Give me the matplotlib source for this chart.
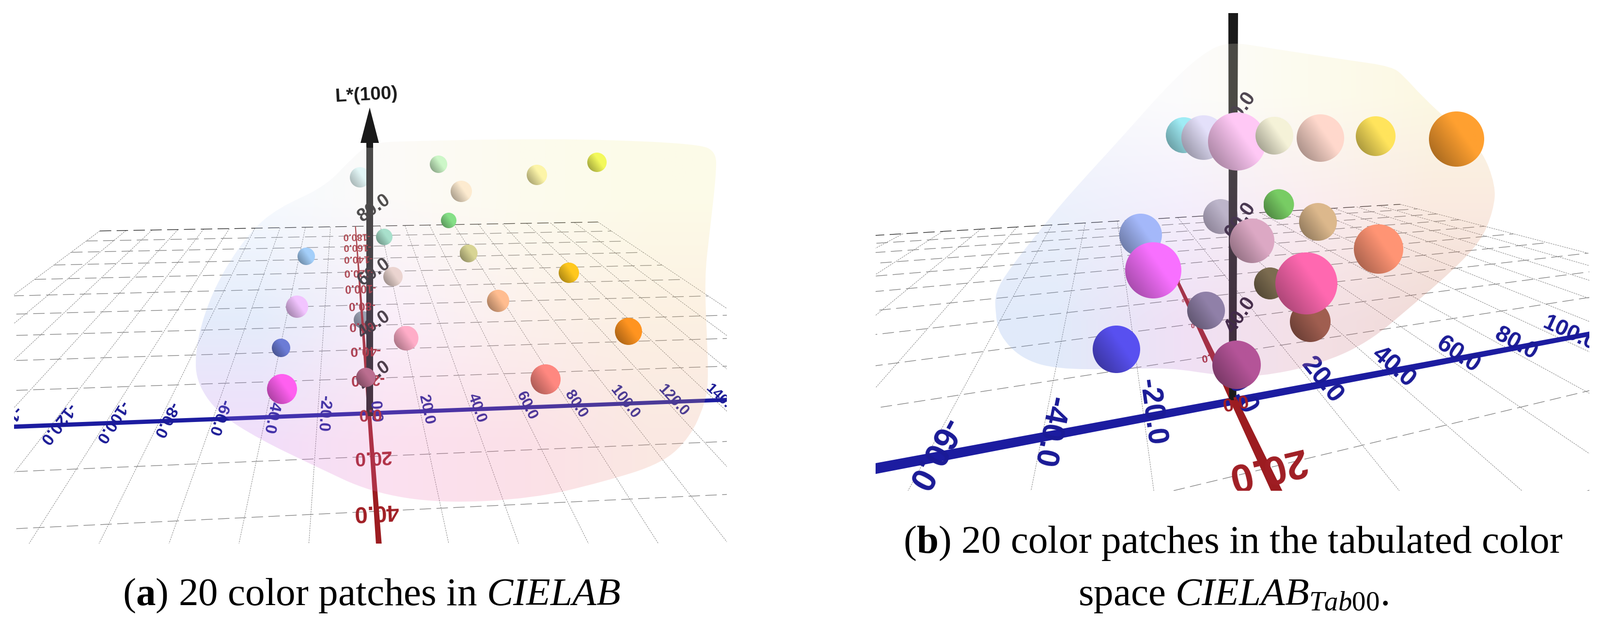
import numpy as np
import matplotlib
matplotlib.use("Agg")
import matplotlib.pyplot as plt
from matplotlib.patches import Circle, PathPatch
from matplotlib.path import Path

W, H = 3302, 1288
plt.rcParams['lines.scale_dashes'] = False
plt.rcParams['mathtext.fontset'] = 'custom'
plt.rcParams['mathtext.rm'] = 'Liberation Serif'
plt.rcParams['mathtext.it'] = 'Liberation Serif:italic'
plt.rcParams['mathtext.bf'] = 'Liberation Serif:bold'

# color patches
a_patch_x = [743, 905, 1108, 1232, 952, 926, 793, 967, 632, 1174, 811, 1028, 613, 748, 838, 1297, 580, 1126, 582, 755]
a_patch_y = [366, 339, 361, 335, 395, 455, 489, 523, 529, 563, 571, 621, 633, 660, 698, 684, 718, 783, 803, 779]
a_patch_r = [21, 18, 21, 20, 22, 16, 17, 18.5, 18, 21, 20, 23, 23, 18, 25.5, 28, 19, 31, 31, 20]
a_patch_colour = ['#E0FBFB', '#CDF7C8', '#FDF5A8', '#F4FA5C', '#FDEBD0', '#86E088', '#A8E0CC', '#D8D494',
                  '#A4CFFA', '#FFC81E', '#EBD5D0', '#FFBD90', '#F2C4FF', '#8A9CA2', '#FFADC8', '#FF9420',
                  '#6C7CD6', '#FF8880', '#FF60F0', '#BC6E90']
a_behind = [0, 13]

b_patch_x = [2443, 2484, 2553, 2630, 2725, 2839, 3006, 2519, 2639, 2720, 2584, 2845, 2354, 2380, 2621, 2704, 2696, 2489, 2304, 2552]
b_patch_y = [279, 284, 292, 280, 285, 281, 287, 447, 422, 458, 497, 514, 485, 558, 585, 664, 585, 641, 721, 753]
b_patch_r = [37, 46, 60, 39, 49, 41, 57, 36, 31.5, 39, 46, 51, 44, 58, 33, 42, 64, 39, 49, 50]
b_patch_colour = ['#9FECF5', '#E4E0FA', '#FFC8F5', '#F5F2D8', '#FFD8CC', '#FFE45C', '#FFA030', '#B6B6C4',
                  '#78CC64', '#DCB88C', '#DCA8C4', '#FF9474', '#A4B8FA', '#F870FF', '#7C6C50', '#A05E50',
                  '#FF68B0', '#9080A8', '#5850F0', '#B45498']
b_behind = [7]

# gamut surface outlines
a_surf_x = [765, 861, 1052, 1244, 1435, 1478, 1478, 1464, 1454, 1459, 1462, 1454, 1425, 1368, 1244, 1100, 909, 765, 650, 536, 450, 407, 402, 421, 459, 517, 574, 670, 727]
a_surf_y = [294, 291, 287, 288, 297, 311, 362, 483, 574, 695, 792, 835, 901, 956, 995, 1029, 1039, 1016, 962, 907, 853, 792, 732, 647, 562, 477, 429, 386, 326]
b_surf_x = [2536, 2618, 2781, 2873, 2899, 2934, 2995, 3057, 3087, 3082, 3057, 2995, 2914, 2822, 2720, 2598, 2516, 2414, 2312, 2179, 2108, 2062, 2054, 2054, 2083, 2169, 2230, 2312, 2414, 2485]
b_surf_y = [86, 99, 124, 137, 159, 198, 255, 306, 383, 434, 497, 561, 631, 708, 753, 778, 775, 759, 762, 762, 740, 692, 644, 603, 555, 446, 376, 287, 172, 108]

a_tint = [[(216, 233, 255), (242, 233, 225), (246, 238, 181), (246, 238, 155)],
          [(138, 172, 238), (233, 181, 233), (242, 190, 172), (242, 190, 129)],
          [(198, 112, 233), (238, 120, 190), (242, 120, 155), (233, 155, 129)]]
b_tint = [[(225, 233, 255), (242, 242, 242), (246, 238, 181), (242, 225, 129)],
          [(172, 194, 242), (207, 181, 242), (233, 172, 190), (233, 164, 120)],
          [(125, 164, 233), (190, 120, 212), (207, 120, 146), (190, 94, 77)]]

# floor grid: cell index (a*/20, b*/20) against where it shows up in the picture
a_floor_uv = [(-10, -10), (10, -10), (-10, 0), (10, 0), (-3, 0), (3, 0)]
a_floor_xy = [(206, 477), (1234, 458), (-357, 895), (1765, 816), (437, 865), (1077, 841)]
b_floor_uv = [(-7, -10), (10, -10), (-1, -10), (-3, 0), (-1, 0), (1, 0), (5, 0), (1, 1), (2, 1), (-2, -1), (-3, -1), (-3, -2), (-2, -2)]
b_floor_xy = [(1863, 482), (2889, 422), (2306, 456), (1899, 949), (2361, 863), (2718, 796), (3230, 700), (2806, 916), (2974, 876), (2175, 785), (1986, 816), (2033, 727), (2191, 706)]

a_ticks_a = [-140, -120, -100, -80, -60, -40, -20, 0, 20, 40, 60, 80, 100, 120, 140]
a_ticks_b = [-180, -160, -140, -120, -100, -80, -60, -40, -20, 0, 20, 40]
b_ticks_a = [-80, -60, -40, -20, 0, 20, 40, 60, 80, 100, 120]
b_ticks_b = [-180, -160, -140, -120, -100, -80, -60, -40, -20, 0, 20]
ticks_l = [20, 40, 60, 80]
a_l_label_y = [774, 671, 562, 430]
b_l_label_y = [760, 651, 455, 226]

SANS = 'Liberation Sans'
BLUE = '#1C1CA0'
RED = '#9C1C20'


def fit_floor(uv, xy):
    rows, rhs = [], []
    for (u, v), (x, y) in zip(uv, xy):
        rows.append([u, v, 1, 0, 0, 0, -u * x, -v * x])
        rows.append([0, 0, 0, u, v, 1, -u * y, -v * y])
        rhs += [x, y]
    h = np.linalg.lstsq(np.array(rows, float), np.array(rhs, float), rcond=None)[0]
    return np.append(h, 1).reshape(3, 3)


def project(M, u, v):
    u = np.asarray(u, float)
    v = np.asarray(v, float)
    w = M[2, 0] * u + M[2, 1] * v + 1
    return (M[0, 0] * u + M[0, 1] * v + M[0, 2]) / w, (M[1, 0] * u + M[1, 1] * v + M[1, 2]) / w


def angle_between(M, u0, v0, u1, v1):
    x0, y0 = project(M, u0, v0)
    x1, y1 = project(M, u1, v1)
    return np.degrees(np.arctan2(-(y1 - y0), x1 - x0))


def tube(ax, x0, y0, x1, y1, w0, w1, colour, z):
    d = np.array([x1 - x0, y1 - y0], float)
    n = np.array([-d[1], d[0]]) / np.hypot(*d)
    xs = [x0 + n[0] * w0 / 2, x1 + n[0] * w1 / 2, x1 - n[0] * w1 / 2, x0 - n[0] * w0 / 2]
    ys = [y0 + n[1] * w0 / 2, y1 + n[1] * w1 / 2, y1 - n[1] * w1 / 2, y0 - n[1] * w0 / 2]
    ax.fill(xs, ys, color=colour, lw=0, zorder=z)


def draw_grid(ax, M, v_front):
    for u in range(-10, 11):
        x, y = project(M, np.full(40, u), np.linspace(-10, v_front, 40))
        ax.plot(x, y, color='#6a6a6a', lw=0.6, ls=(0, (2.2, 1.3)), zorder=1)
    for v in range(-10, int(v_front) + 1):
        x, y = project(M, np.linspace(-10, 10, 40), np.full(40, v))
        c = '#1e1e1e' if v == -10 else '#808080'
        ax.plot(x, y, color=c, lw=0.95, ls=(0, (17, 8)), zorder=1)


def draw_surface(ax, xs, ys, tint):
    pts = np.column_stack([xs, ys]).astype(float)
    mids = (pts + np.roll(pts, -1, axis=0)) / 2
    verts = [mids[-1]]
    codes = [Path.MOVETO]
    for p, m in zip(pts, mids):
        verts += [p, m]
        codes += [Path.CURVE3, Path.CURVE3]
    path = Path(verts, codes)
    im = ax.imshow(np.array(tint, float) / 255, extent=(min(xs), max(xs), max(ys), min(ys)),
                   interpolation='bilinear', aspect='auto', alpha=0.23, zorder=5)
    im.set_clip_path(PathPatch(path, transform=ax.transData))


def draw_patches(ax, px, py, pr, colours, behind):
    gy, gx = np.mgrid[-1:1:80j, -1:1:80j]
    shade = np.clip(0.93 + 0.2 * gx - 0.14 * gy, 0.66, 1.0)
    for i in range(len(px)):
        rgb = np.clip(np.array(matplotlib.colors.to_rgb(colours[i]))[None, None, :] * shade[:, :, None], 0, 1)
        r = pr[i]
        im = ax.imshow(rgb, extent=(px[i] - r, px[i] + r, py[i] + r, py[i] - r),
                       interpolation='bilinear', aspect='auto', zorder=2 if i in behind else 6)
        im.set_clip_path(Circle((px[i], py[i]), r, transform=ax.transData))


def draw_labels(ax, M, ticks_a, ticks_b, a_em, b_em, a_shift):
    for t in ticks_a:
        u = t / 20
        x, y = project(M, u, 0)
        x1, _ = project(M, u + 1, 0)
        em = a_em[0] + a_em[1] * abs(x1 - x)
        ax.text(x + a_shift[0], y + a_shift[1], f"{t:.1f}", color='#1A1A96', family=SANS, weight='bold',
                fontsize=em * 0.72, rotation=float(angle_between(M, u, -0.2, u, 0.2)),
                rotation_mode='anchor', ha='center', va='center', zorder=4, clip_on=True)
    for t in ticks_b:
        v = t / 20
        x, y = project(M, 0, v)
        _, y1 = project(M, 0, v + 1)
        em = b_em[0] + b_em[1] * abs(y1 - y) ** b_em[2]
        ax.text(x, y, f"{t:.1f}", color='#A01E24', family=SANS, weight='bold',
                fontsize=em * 0.72, rotation=float(angle_between(M, 0.2, v, -0.2, v)),
                rotation_mode='anchor', ha='center', va='center', zorder=4, clip_on=True)


fig = plt.figure(figsize=(W / 100, H / 100), dpi=100)
ax_a = fig.add_axes([29 / W, 1 - 1122 / H, 1471 / W, 1022 / H])
ax_b = fig.add_axes([1807 / W, 1 - 1013 / H, 1473 / W, 986 / H])
ax_a.set_xlim(29, 1500)
ax_a.set_ylim(1122, 100)
ax_b.set_xlim(1807, 3280)
ax_b.set_ylim(1013, 27)
for ax in (ax_a, ax_b):
    ax.set_axis_off()
    ax.autoscale(False)

# left panel
Ma = fit_floor(a_floor_uv, a_floor_xy)
draw_grid(ax_a, Ma, 3)
x0, y0 = project(Ma, -8, 0)
x1, y1 = project(Ma, 8, 0)
tube(ax_a, x0, y0, x1, y1, 9, 8, BLUE, 3)
x0, y0 = project(Ma, 0, -10)
x1, y1 = project(Ma, 0, 3)
tube(ax_a, x0, y0, x1, y1, 2, 13, RED, 3.2)
tube(ax_a, 763, 859, 763, 295, 14, 14, '#1a1a1a', 3.4)
ax_a.fill([744, 763, 782], [295, 222, 295], color='#1a1a1a', lw=0, zorder=7)
tube(ax_a, 763, 295, 763, 305, 13, 13, '#1a1a1a', 7)
ax_a.text(756, 197, "L*(100)", color='#1a1a1a', family=SANS, weight='bold', fontsize=28, rotation=3,
          ha='center', va='center', zorder=7)
draw_labels(ax_a, Ma, a_ticks_a, a_ticks_b, (0, 0.31), (15, 0.22, 1), (12, -3))
for t, y in zip(ticks_l, a_l_label_y):
    ax_a.text(772, y, f"{t:.1f}", color='#1e1e1e', family=SANS, weight='bold', fontsize=27, rotation=35,
              ha='center', va='center', zorder=4)
draw_surface(ax_a, a_surf_x, a_surf_y, a_tint)
draw_patches(ax_a, a_patch_x, a_patch_y, a_patch_r, a_patch_colour, a_behind)

# right panel
Mb = fit_floor(b_floor_uv, b_floor_xy)
draw_grid(ax_b, Mb, 2)
x0, y0 = project(Mb, -5, 0)
x1, y1 = project(Mb, 6.5, 0)
tube(ax_b, x0, y0, x1, y1, 26, 9, BLUE, 3)
x0, y0 = project(Mb, 0, -10)
x1, y1 = project(Mb, 0, 1.6)
tube(ax_b, x0, y0, x1, y1, 2, 24, RED, 3.2)
tube(ax_b, 2544, 826, 2545, 27, 15, 20, '#1a1a1a', 3.4)
draw_labels(ax_b, Mb, b_ticks_a, b_ticks_b, (30, 0.165), (0, 0.024, 1.5), (15, -11))
for t, y in zip(ticks_l, b_l_label_y):
    ax_b.text(2560, y, f"{t:.1f}", color='#1c1228', family=SANS, weight='bold', fontsize=30, rotation=55,
              ha='center', va='center', zorder=4)
draw_surface(ax_b, b_surf_x, b_surf_y, b_tint)
draw_patches(ax_b, b_patch_x, b_patch_y, b_patch_r, b_patch_colour, b_behind)

# captions
cap = dict(family='Liberation Serif', fontsize=58.5, va='baseline', color='black')
fig.text(253 / W, 1 - 1249 / H, r"($\mathbf{a}$) 20 color patches in $CIELAB$", ha='left', **cap)
fig.text(1864 / W, 1 - 1141 / H, r"($\mathbf{b}$) 20 color patches in the tabulated color", ha='left', **cap)
fig.text(2545 / W, 1 - 1249 / H, r"space $CIELAB_{Tab00}$.", ha='center', **cap)

fig.savefig("out.png", dpi=100)
